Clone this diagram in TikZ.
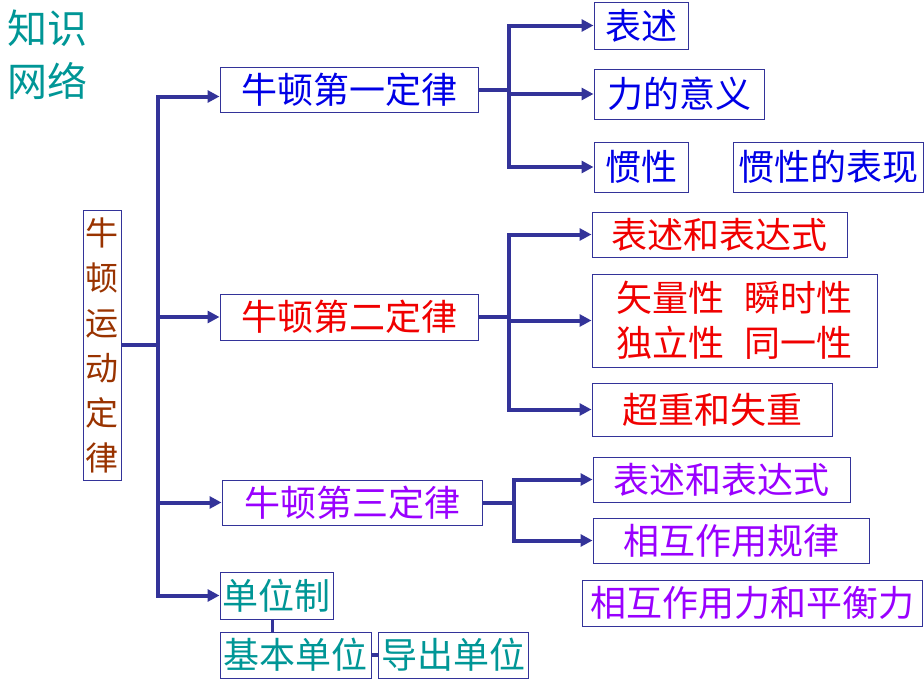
\documentclass[tikz,border=0pt]{standalone}
\usepackage{fontspec}
\setmainfont{Noto Sans CJK SC}
\usetikzlibrary{arrows.meta}

\definecolor{lien}{RGB}{51,51,153}
\definecolor{bleu}{RGB}{0,0,230}
\definecolor{rouge}{RGB}{240,0,0}
\definecolor{violet}{RGB}{153,0,255}
\definecolor{sarcelle}{RGB}{0,150,150}
\definecolor{brun}{RGB}{153,51,0}

\begin{document}
\begin{tikzpicture}[
  x=1pt,y=-1pt,
  >={Triangle[length=12pt,width=12pt]},
  boite/.style={draw=lien,line width=1pt,inner sep=0pt,
    font=\fontsize{36}{45}\selectfont},
  trait/.style={lien,line width=4pt},
  fleche/.style={trait,->},
]
  \useasboundingbox (0,0) rectangle (924,680);

  % Titre
  \node[text=sarcelle,anchor=north west,align=left,inner sep=0pt,
    font=\fontsize{40}{53}\selectfont] (titre) at (7,10) {知识\\网络};

  % Racine (texte vertical)
  \node[boite,text=brun,minimum width=38pt,minimum height=270pt,align=center,
    font=\fontsize{33}{45}\selectfont] (racine) at (102,345)
    {牛\\顿\\运\\动\\定\\律};

  % Les trois lois et les unites
  \node[boite,text=bleu,minimum width=258pt,minimum height=45pt]   (loi1)  at (349,89.5)  {牛顿第一定律};
  \node[boite,text=rouge,minimum width=258pt,minimum height=46pt]  (loi2)  at (349,317)   {牛顿第二定律};
  \node[boite,text=violet,minimum width=260pt,minimum height=45pt] (loi3)  at (352,502.5) {牛顿第三定律};
  \node[boite,text=sarcelle,minimum width=113pt,minimum height=47pt] (unite)  at (276.5,595.5) {单位制};
  \node[boite,text=sarcelle,minimum width=151pt,minimum height=46pt] (base)   at (295.5,655)   {基本单位};
  \node[boite,text=sarcelle,minimum width=150pt,minimum height=46pt] (derive) at (453,655)     {导出单位};

  % Premiere loi
  \node[boite,text=bleu,minimum width=94pt,minimum height=47pt]  (enonce1) at (641,25.5) {表述};
  \node[boite,text=bleu,minimum width=170pt,minimum height=50pt] (sens)    at (679,94)   {力的意义};
  \node[boite,text=bleu,minimum width=94pt,minimum height=50pt]  (inertie) at (641,167)  {惯性};
  \node[boite,text=bleu,minimum width=190pt,minimum height=50pt] (manif)   at (828,167)  {惯性的表现};

  % Deuxieme loi
  \node[boite,text=rouge,minimum width=255pt,minimum height=45pt] (enonce2) at (719.5,234.5) {表述和表达式};
  \node[boite,text=rouge,minimum width=285pt,minimum height=93pt,align=center] (props) at (734.5,320.5)
    {矢量性\hspace{20pt}瞬时性\\独立性\hspace{20pt}同一性};
  \node[boite,text=rouge,minimum width=240pt,minimum height=53pt] (poids) at (712,409.5) {超重和失重};

  % Troisieme loi
  \node[boite,text=violet,minimum width=257pt,minimum height=45pt] (enonce3) at (721.5,479.5) {表述和表达式};
  \node[boite,text=violet,minimum width=276pt,minimum height=45pt] (regle)   at (731,540.5)   {相互作用规律};
  \node[boite,text=violet,minimum width=340pt,minimum height=46pt] (equil)   at (752,603)     {相互作用力和平衡力};

  % Tronc et branches
  \coordinate (tronc) at (158,0);
  \coordinate (b1) at (509,0);
  \coordinate (b2) at (509,0);
  \coordinate (b3) at (514,0);

  \draw[trait] (racine.east) -- (racine.east -| tronc);
  \draw[fleche] (racine.east -| tronc) |- ([yshift=-7pt]loi1.west);
  \draw[fleche] (racine.east -| tronc) |- (loi2.west);
  \draw[fleche] (racine.east -| tronc) |- (loi3.west);
  \draw[fleche] (racine.east -| tronc) |- (unite.west);

  \draw[fleche] (loi1.east) -- (loi1.east -| b1) |- (enonce1.west);
  \draw[fleche] (loi1.east) -- (loi1.east -| b1) |- (sens.west);
  \draw[fleche] (loi1.east) -- (loi1.east -| b1) |- (inertie.west);

  \draw[fleche] (loi2.east) -- (loi2.east -| b2) |- (enonce2.west);
  \draw[fleche] (loi2.east) -- (loi2.east -| b2) |- (props.west);
  \draw[fleche] (loi2.east) -- (loi2.east -| b2) |- (poids.west);

  \draw[fleche] (loi3.east) -- (loi3.east -| b3) |- (enonce3.west);
  \draw[fleche] (loi3.east) -- (loi3.east -| b3) |- (regle.west);

  % Unites
  \draw[lien,line width=3pt] ([xshift=-4.5pt]unite.south) -- ([xshift=-4.5pt]unite.south |- base.north);
  \draw[trait] (base.east) -- (derive.west);
\end{tikzpicture}
\end{document}
